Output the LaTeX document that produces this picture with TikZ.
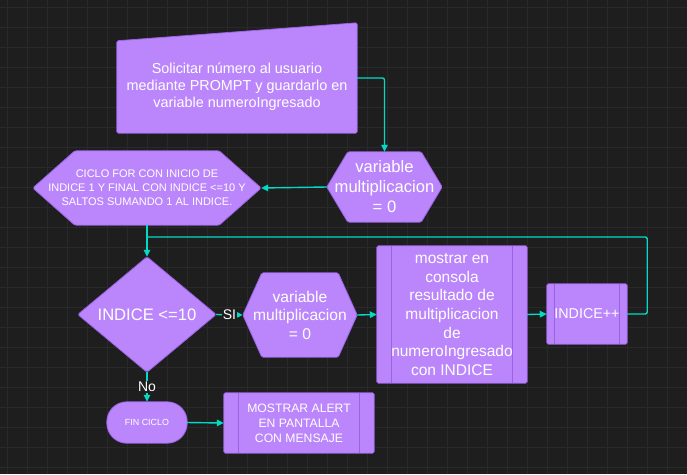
\documentclass[tikz,border=0pt]{standalone}
\usepackage{fontspec}
\setmainfont{Liberation Sans}
\usetikzlibrary{arrows.meta}
\definecolor{bgc}{HTML}{1E1E1E}
\definecolor{gridc}{HTML}{292929}
\definecolor{pfill}{HTML}{BB86FC}
\definecolor{pline}{HTML}{9A62E4}
\definecolor{tealc}{HTML}{03DAC6}
\pgfdeclarelayer{back}
\pgfdeclarelayer{bg}
\pgfsetlayers{back,bg,main}
\newcommand\myhex[2]{\draw[shp] (#1.west) -- ([xshift=#2]#1.north west) -- ([xshift=-#2]#1.north east) -- (#1.east) -- ([xshift=-#2]#1.south east) -- ([xshift=#2]#1.south west) -- cycle;}
\newcommand\mysub[2]{\draw[shp] (#1.south west) rectangle (#1.north east);
  \draw[sline] ([xshift=#2]#1.north west) -- ([xshift=#2]#1.south west);
  \draw[sline] ([xshift=-#2]#1.north east) -- ([xshift=-#2]#1.south east);}
\begin{document}
\begin{tikzpicture}[x=1pt,y=-1pt,
  txt/.style={draw=none, inner sep=0pt, align=center, text=white},
  shp/.style={fill=pfill, draw=pline, line width=0.8pt, rounded corners=1.5pt},
  sline/.style={draw=pline, line width=0.8pt},
  line/.style={draw=tealc, line width=1.4pt},
  conn/.style={line, -{Triangle[length=7pt,width=6.5pt]}},
  lbl/.style={fill=bgc, text=white, inner sep=1pt, font=\fontsize{14}{16}\selectfont}]
\useasboundingbox (0,0) rectangle (687,474);
\begin{pgfonlayer}{back}
  \fill[bgc] (0,0) rectangle (687,474);
  \foreach \x in {7.5,27.5,...,687} \draw[gridc, line width=0.6pt] (\x,0) -- (\x,474);
  \foreach \y in {7.5,27.5,...,474} \draw[gridc, line width=0.6pt] (0,\y) -- (687,\y);
\end{pgfonlayer}

% nodes
\node[txt, minimum width=240pt, minimum height=92pt, font=\fontsize{14.4}{17}\selectfont] (in1) at (237,87)
  {Solicitar número al usuario\\mediante PROMPT y guardarlo en\\variable numeroIngresado};
\node[txt, minimum width=115pt, minimum height=70pt, font=\fontsize{16.6}{20}\selectfont] (hx1) at (384.5,187)
  {variable\\multiplicacion\\= 0};
\node[txt, minimum width=228pt, minimum height=74pt, font=\fontsize{11}{14}\selectfont] (hx2) at (147,188)
  {CICLO FOR CON INICIO DE\\INDICE 1 Y FINAL CON INDICE <=10 Y\\SALTOS SUMANDO 1 AL INDICE.};
\node[txt, minimum width=138pt, minimum height=115pt, font=\fontsize{16.6}{20}\selectfont] (dia) at (147,314.5)
  {INDICE <=10};
\node[txt, minimum width=114pt, minimum height=84pt, font=\fontsize{15.6}{18.5}\selectfont] (hx3) at (300,315)
  {variable\\multiplicacion\\= 0};
\node[txt, minimum width=150pt, minimum height=137pt, font=\fontsize{15.5}{18.7}\selectfont] (box1) at (452,314.5)
  {mostrar en\\consola\\resultado de\\multiplicacion\\de\\numeroIngresado\\con INDICE};
\node[txt, minimum width=80pt, minimum height=60pt, font=\fontsize{14.3}{17}\selectfont] (inc) at (587,314)
  {INDICE++};
\node[txt, minimum width=80pt, minimum height=41pt, font=\fontsize{8.9}{11}\selectfont] (fin) at (147,422.5)
  {FIN CICLO};
\node[txt, minimum width=150pt, minimum height=60pt, font=\fontsize{12.2}{15}\selectfont] (alert) at (299,423)
  {MOSTRAR ALERT\\EN PANTALLA\\CON MENSAJE};

% shapes
\begin{pgfonlayer}{bg}
  \draw[shp] (in1.south west) -- (in1.south east) -- ([yshift=18pt]in1.north east) -- (in1.north west) -- cycle;
  \myhex{hx1}{21pt}
  \myhex{hx2}{42pt}
  \myhex{hx3}{19pt}
  \draw[shp] (dia.west) -- (dia.north) -- (dia.east) -- (dia.south) -- cycle;
  \mysub{box1}{15pt}
  \mysub{inc}{8pt}
  \mysub{alert}{15pt}
  \draw[shp, rounded corners=20pt] (fin.south west) rectangle (fin.north east);
\end{pgfonlayer}

% connectors
\coordinate (j) at (147,237);
\draw[conn, rounded corners=2pt] ([yshift=9pt]in1.east) -| (hx1.north);
\draw[conn] (hx1.west) -- (hx2.east);
\draw[conn] (hx2.south) -- (dia.north);
\draw[line, rounded corners=2pt] (inc.east) -- ++(20,0) |- (j);
\draw[conn] (dia.east) -- node[lbl] {SI} (hx3.west);
\draw[conn] (hx3.east) -- (box1.west);
\draw[conn] (box1.east) -- (inc.west);
\draw[conn] (dia.south) -- node[lbl] {No} (fin.north);
\draw[conn] (fin.east) -- (alert.west);
\end{tikzpicture}
\end{document}
